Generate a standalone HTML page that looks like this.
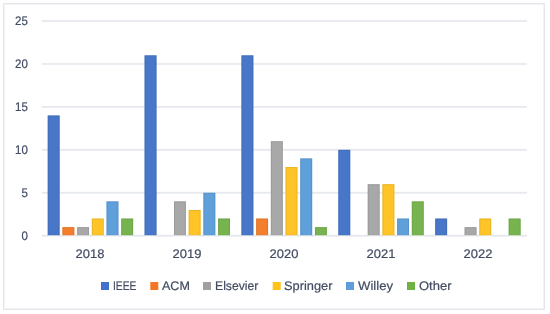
<!DOCTYPE html>
<html><head><meta charset="utf-8"><style>
html,body{margin:0;padding:0;background:#fff;}
body{width:550px;height:314px;position:relative;overflow:hidden;font-family:"Liberation Sans",Arial,sans-serif;color:#424C61;}
#c{position:absolute;left:0;top:0;width:550px;height:314px;filter:blur(0.3px);}
svg{position:absolute;left:0;top:0;}
.t{position:absolute;white-space:nowrap;font-size:12.5px;line-height:1;transform-origin:0 0;-webkit-text-stroke:0.2px #424C61;text-rendering:geometricPrecision;}
</style></head><body><div id="c">
<svg width="550" height="314" viewBox="0 0 550 314">
<rect x="3.5" y="3.5" width="541" height="306" fill="none" stroke="#E3E6EA" stroke-width="1"/>
<rect x="4.5" y="4.5" width="539" height="304" fill="none" stroke="#F1F3F5" stroke-width="1"/>

<rect x="41.8" y="234.65" width="485.10" height="2.2" fill="#F2F3F6"/>
<rect x="41.8" y="235.15" width="485.10" height="1.2" fill="#E3E6EB"/>
<rect x="41.8" y="191.70" width="485.10" height="2.2" fill="#F2F3F6"/>
<rect x="41.8" y="192.20" width="485.10" height="1.2" fill="#E3E6EB"/>
<rect x="41.8" y="148.75" width="485.10" height="2.2" fill="#F2F3F6"/>
<rect x="41.8" y="149.25" width="485.10" height="1.2" fill="#E3E6EB"/>
<rect x="41.8" y="105.80" width="485.10" height="2.2" fill="#F2F3F6"/>
<rect x="41.8" y="106.30" width="485.10" height="1.2" fill="#E3E6EB"/>
<rect x="41.8" y="62.85" width="485.10" height="2.2" fill="#F2F3F6"/>
<rect x="41.8" y="63.35" width="485.10" height="1.2" fill="#E3E6EB"/>
<rect x="41.8" y="19.90" width="485.10" height="2.2" fill="#F2F3F6"/>
<rect x="41.8" y="20.40" width="485.10" height="1.2" fill="#E3E6EB"/>
<rect x="47.72" y="115.49" width="11.9" height="119.71" fill="#4877C9"/>
<rect x="48.22" y="115.99" width="10.9" height="119.21" fill="none" stroke="#3D65AA" stroke-width="1" stroke-opacity="0.5"/>
<rect x="47.72" y="235.2" width="11.9" height="1.8" fill="#FFFFFF" fill-opacity="0.5"/>
<rect x="62.42" y="227.16" width="11.9" height="8.04" fill="#F37F2E"/>
<rect x="62.92" y="227.66" width="10.9" height="7.54" fill="none" stroke="#CE6B27" stroke-width="1" stroke-opacity="0.5"/>
<rect x="62.42" y="235.2" width="11.9" height="1.8" fill="#FFFFFF" fill-opacity="0.5"/>
<rect x="77.12" y="227.16" width="11.9" height="8.04" fill="#A8A8A8"/>
<rect x="77.62" y="227.66" width="10.9" height="7.54" fill="none" stroke="#8E8E8E" stroke-width="1" stroke-opacity="0.5"/>
<rect x="77.12" y="235.2" width="11.9" height="1.8" fill="#FFFFFF" fill-opacity="0.5"/>
<rect x="91.82" y="218.57" width="11.9" height="16.63" fill="#FEC428"/>
<rect x="92.32" y="219.07" width="10.9" height="16.13" fill="none" stroke="#D7A622" stroke-width="1" stroke-opacity="0.5"/>
<rect x="91.82" y="235.2" width="11.9" height="1.8" fill="#FFFFFF" fill-opacity="0.5"/>
<rect x="106.52" y="201.39" width="11.9" height="33.81" fill="#60A0DA"/>
<rect x="107.02" y="201.89" width="10.9" height="33.31" fill="none" stroke="#5188B9" stroke-width="1" stroke-opacity="0.5"/>
<rect x="106.52" y="235.2" width="11.9" height="1.8" fill="#FFFFFF" fill-opacity="0.5"/>
<rect x="121.22" y="218.57" width="11.9" height="16.63" fill="#77B44F"/>
<rect x="121.72" y="219.07" width="10.9" height="16.13" fill="none" stroke="#659943" stroke-width="1" stroke-opacity="0.5"/>
<rect x="121.22" y="235.2" width="11.9" height="1.8" fill="#FFFFFF" fill-opacity="0.5"/>
<rect x="144.59" y="55.36" width="11.9" height="179.84" fill="#4877C9"/>
<rect x="145.09" y="55.86" width="10.9" height="179.34" fill="none" stroke="#3D65AA" stroke-width="1" stroke-opacity="0.5"/>
<rect x="144.59" y="235.2" width="11.9" height="1.8" fill="#FFFFFF" fill-opacity="0.5"/>
<rect x="173.99" y="201.39" width="11.9" height="33.81" fill="#A8A8A8"/>
<rect x="174.49" y="201.89" width="10.9" height="33.31" fill="none" stroke="#8E8E8E" stroke-width="1" stroke-opacity="0.5"/>
<rect x="173.99" y="235.2" width="11.9" height="1.8" fill="#FFFFFF" fill-opacity="0.5"/>
<rect x="188.69" y="209.98" width="11.9" height="25.22" fill="#FEC428"/>
<rect x="189.19" y="210.48" width="10.9" height="24.72" fill="none" stroke="#D7A622" stroke-width="1" stroke-opacity="0.5"/>
<rect x="188.69" y="235.2" width="11.9" height="1.8" fill="#FFFFFF" fill-opacity="0.5"/>
<rect x="203.39" y="192.80" width="11.9" height="42.40" fill="#60A0DA"/>
<rect x="203.89" y="193.30" width="10.9" height="41.90" fill="none" stroke="#5188B9" stroke-width="1" stroke-opacity="0.5"/>
<rect x="203.39" y="235.2" width="11.9" height="1.8" fill="#FFFFFF" fill-opacity="0.5"/>
<rect x="218.09" y="218.57" width="11.9" height="16.63" fill="#77B44F"/>
<rect x="218.59" y="219.07" width="10.9" height="16.13" fill="none" stroke="#659943" stroke-width="1" stroke-opacity="0.5"/>
<rect x="218.09" y="235.2" width="11.9" height="1.8" fill="#FFFFFF" fill-opacity="0.5"/>
<rect x="241.46" y="55.36" width="11.9" height="179.84" fill="#4877C9"/>
<rect x="241.96" y="55.86" width="10.9" height="179.34" fill="none" stroke="#3D65AA" stroke-width="1" stroke-opacity="0.5"/>
<rect x="241.46" y="235.2" width="11.9" height="1.8" fill="#FFFFFF" fill-opacity="0.5"/>
<rect x="256.16" y="218.57" width="11.9" height="16.63" fill="#F37F2E"/>
<rect x="256.66" y="219.07" width="10.9" height="16.13" fill="none" stroke="#CE6B27" stroke-width="1" stroke-opacity="0.5"/>
<rect x="256.16" y="235.2" width="11.9" height="1.8" fill="#FFFFFF" fill-opacity="0.5"/>
<rect x="270.86" y="141.26" width="11.9" height="93.94" fill="#A8A8A8"/>
<rect x="271.36" y="141.76" width="10.9" height="93.44" fill="none" stroke="#8E8E8E" stroke-width="1" stroke-opacity="0.5"/>
<rect x="270.86" y="235.2" width="11.9" height="1.8" fill="#FFFFFF" fill-opacity="0.5"/>
<rect x="285.56" y="167.03" width="11.9" height="68.17" fill="#FEC428"/>
<rect x="286.06" y="167.53" width="10.9" height="67.67" fill="none" stroke="#D7A622" stroke-width="1" stroke-opacity="0.5"/>
<rect x="285.56" y="235.2" width="11.9" height="1.8" fill="#FFFFFF" fill-opacity="0.5"/>
<rect x="300.26" y="158.44" width="11.9" height="76.76" fill="#60A0DA"/>
<rect x="300.76" y="158.94" width="10.9" height="76.26" fill="none" stroke="#5188B9" stroke-width="1" stroke-opacity="0.5"/>
<rect x="300.26" y="235.2" width="11.9" height="1.8" fill="#FFFFFF" fill-opacity="0.5"/>
<rect x="314.96" y="227.16" width="11.9" height="8.04" fill="#77B44F"/>
<rect x="315.46" y="227.66" width="10.9" height="7.54" fill="none" stroke="#659943" stroke-width="1" stroke-opacity="0.5"/>
<rect x="314.96" y="235.2" width="11.9" height="1.8" fill="#FFFFFF" fill-opacity="0.5"/>
<rect x="338.33" y="149.85" width="11.9" height="85.35" fill="#4877C9"/>
<rect x="338.83" y="150.35" width="10.9" height="84.85" fill="none" stroke="#3D65AA" stroke-width="1" stroke-opacity="0.5"/>
<rect x="338.33" y="235.2" width="11.9" height="1.8" fill="#FFFFFF" fill-opacity="0.5"/>
<rect x="367.73" y="184.21" width="11.9" height="50.99" fill="#A8A8A8"/>
<rect x="368.23" y="184.71" width="10.9" height="50.49" fill="none" stroke="#8E8E8E" stroke-width="1" stroke-opacity="0.5"/>
<rect x="367.73" y="235.2" width="11.9" height="1.8" fill="#FFFFFF" fill-opacity="0.5"/>
<rect x="382.43" y="184.21" width="11.9" height="50.99" fill="#FEC428"/>
<rect x="382.93" y="184.71" width="10.9" height="50.49" fill="none" stroke="#D7A622" stroke-width="1" stroke-opacity="0.5"/>
<rect x="382.43" y="235.2" width="11.9" height="1.8" fill="#FFFFFF" fill-opacity="0.5"/>
<rect x="397.13" y="218.57" width="11.9" height="16.63" fill="#60A0DA"/>
<rect x="397.63" y="219.07" width="10.9" height="16.13" fill="none" stroke="#5188B9" stroke-width="1" stroke-opacity="0.5"/>
<rect x="397.13" y="235.2" width="11.9" height="1.8" fill="#FFFFFF" fill-opacity="0.5"/>
<rect x="411.83" y="201.39" width="11.9" height="33.81" fill="#77B44F"/>
<rect x="412.33" y="201.89" width="10.9" height="33.31" fill="none" stroke="#659943" stroke-width="1" stroke-opacity="0.5"/>
<rect x="411.83" y="235.2" width="11.9" height="1.8" fill="#FFFFFF" fill-opacity="0.5"/>
<rect x="435.20" y="218.57" width="11.9" height="16.63" fill="#4877C9"/>
<rect x="435.70" y="219.07" width="10.9" height="16.13" fill="none" stroke="#3D65AA" stroke-width="1" stroke-opacity="0.5"/>
<rect x="435.20" y="235.2" width="11.9" height="1.8" fill="#FFFFFF" fill-opacity="0.5"/>
<rect x="464.60" y="227.16" width="11.9" height="8.04" fill="#A8A8A8"/>
<rect x="465.10" y="227.66" width="10.9" height="7.54" fill="none" stroke="#8E8E8E" stroke-width="1" stroke-opacity="0.5"/>
<rect x="464.60" y="235.2" width="11.9" height="1.8" fill="#FFFFFF" fill-opacity="0.5"/>
<rect x="479.30" y="218.57" width="11.9" height="16.63" fill="#FEC428"/>
<rect x="479.80" y="219.07" width="10.9" height="16.13" fill="none" stroke="#D7A622" stroke-width="1" stroke-opacity="0.5"/>
<rect x="479.30" y="235.2" width="11.9" height="1.8" fill="#FFFFFF" fill-opacity="0.5"/>
<rect x="508.70" y="218.57" width="11.9" height="16.63" fill="#77B44F"/>
<rect x="509.20" y="219.07" width="10.9" height="16.13" fill="none" stroke="#659943" stroke-width="1" stroke-opacity="0.5"/>
<rect x="508.70" y="235.2" width="11.9" height="1.8" fill="#FFFFFF" fill-opacity="0.5"/>
<rect x="101" y="282" width="8" height="8" fill="#4270CC"/>
<rect x="150.3" y="282" width="8" height="8" fill="#F27624"/>
<rect x="203" y="282" width="8" height="8" fill="#A0A0A0"/>
<rect x="272.7" y="282" width="8" height="8" fill="#FFC21A"/>
<rect x="346" y="282" width="8" height="8" fill="#5C9DDA"/>
<rect x="407" y="282" width="8" height="8" fill="#70B044"/>
</svg>
<div class="t" style="right:522.00px;top:230.05px;text-align:right;transform-origin:100% 0;transform:scaleX(0.92);">0</div>
<div class="t" style="right:522.00px;top:187.10px;text-align:right;transform-origin:100% 0;transform:scaleX(0.92);">5</div>
<div class="t" style="right:522.00px;top:144.15px;text-align:right;transform-origin:100% 0;transform:scaleX(0.92);">10</div>
<div class="t" style="right:522.00px;top:101.20px;text-align:right;transform-origin:100% 0;transform:scaleX(0.92);">15</div>
<div class="t" style="right:522.00px;top:58.25px;text-align:right;transform-origin:100% 0;transform:scaleX(0.92);">20</div>
<div class="t" style="right:522.00px;top:15.30px;text-align:right;transform-origin:100% 0;transform:scaleX(0.92);">25</div>
<div class="t" style="left:60.46px;width:60px;text-align:center;top:247.5px;font-size:12.5px;transform-origin:50% 0;transform:translateY(0px) scale(1.035,1.0);">2018</div>
<div class="t" style="left:157.38px;width:60px;text-align:center;top:247.5px;font-size:12.5px;transform-origin:50% 0;transform:translateY(0px) scale(1.035,1.0);">2019</div>
<div class="t" style="left:254.30px;width:60px;text-align:center;top:247.5px;font-size:12.5px;transform-origin:50% 0;transform:translateY(0px) scale(1.035,1.0);">2020</div>
<div class="t" style="left:351.22px;width:60px;text-align:center;top:247.5px;font-size:12.5px;transform-origin:50% 0;transform:translateY(0px) scale(1.035,1.0);">2021</div>
<div class="t" style="left:448.14px;width:60px;text-align:center;top:247.5px;font-size:12.5px;transform-origin:50% 0;transform:translateY(0px) scale(1.035,1.0);">2022</div>
<div class="t" style="left:112.80px;top:280.2px;transform:scaleX(0.823);">IEEE</div>
<div class="t" style="left:161.70px;top:280.2px;transform:scaleX(1.003);">ACM</div>
<div class="t" style="left:214.60px;top:280.2px;transform:scaleX(0.975);">Elsevier</div>
<div class="t" style="left:283.60px;top:280.2px;transform:scaleX(1.025);">Springer</div>
<div class="t" style="left:358.10px;top:280.2px;transform:scaleX(1.05);">Willey</div>
<div class="t" style="left:418.70px;top:280.2px;transform:scaleX(1.039);">Other</div>
</div></body></html>
